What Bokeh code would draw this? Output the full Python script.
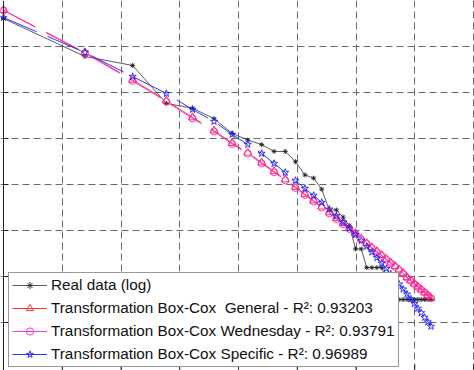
from bokeh.plotting import figure
from bokeh.models import ColumnDataSource, Range1d, FixedTicker, Span
from bokeh.embed import file_html
from bokeh.resources import INLINE

# x = log(rank), ranks 1..38
log_rank = [0.000, 0.693, 1.099, 1.386, 1.609, 1.792, 1.946, 2.079, 2.197, 2.303,
            2.398, 2.485, 2.565, 2.639, 2.708, 2.773, 2.833, 2.890, 2.944, 2.996,
            3.045, 3.091, 3.135, 3.178, 3.219, 3.258, 3.296, 3.332, 3.367, 3.401,
            3.434, 3.466, 3.497, 3.526, 3.555, 3.584, 3.611, 3.638]

real_log = [6.109, 5.283, 5.088, 4.263, 4.159, 3.932, 3.611, 3.466, 3.367, 3.219,
            3.219, 2.996, 2.708, 2.639, 2.398, 1.946, 1.946, 1.792, 1.609, 1.099,
            1.099, 0.693, 0.693, 0.693, 0.693, 0.450, 0.200, 0.000, 0.000, 0.000,
            0.000, 0.000, 0.000, 0.000, 0.000, 0.000, 0.000, 0.000]

boxcox_general = [6.290, 5.370, 4.774, 4.322, 3.957, 3.672, 3.400, 3.190, 2.977, 2.785,
                  2.609, 2.444, 2.292, 2.150, 2.018, 1.892, 1.770, 1.657, 1.553, 1.441,
                  1.319, 1.226, 1.132, 1.045, 0.963, 0.880, 0.800, 0.726, 0.650, 0.575,
                  0.482, 0.412, 0.344, 0.280, 0.216, 0.152, 0.092, 0.030]

boxcox_wednesday = [6.283, 5.354, 4.754, 4.302, 3.937, 3.652, 3.380, 3.170, 2.957, 2.765,
                    2.589, 2.424, 2.272, 2.130, 1.998, 1.872, 1.750, 1.637, 1.533, 1.426,
                    1.304, 1.211, 1.117, 1.030, 0.948, 0.865, 0.785, 0.711, 0.637, 0.563,
                    0.472, 0.404, 0.337, 0.274, 0.211, 0.148, 0.089, 0.030]

boxcox_specific = [6.130, 5.370, 4.848, 4.478, 4.130, 3.870, 3.587, 3.370, 3.174, 2.957,
                   2.761, 2.587, 2.413, 2.261, 2.109, 1.963, 1.820, 1.680, 1.546, 1.411,
                   1.280, 1.154, 1.028, 0.907, 0.787, 0.670, 0.552, 0.441, 0.333, 0.224,
                   0.115, 0.011, -0.091, -0.193, -0.291, -0.391, -0.489, -0.583]

labels = ["Real data (log)",
          "Transformation Box-Cox  General - R\u00b2: 0.93203",
          "Transformation Box-Cox Wednesday - R\u00b2: 0.93791",
          "Transformation Box-Cox Specific - R\u00b2: 0.96989"]

x_grid = [0.5, 1.0, 1.5, 2.0, 2.5, 3.0, 3.5, 4.0]
y_grid = [-0.5, 0.5, 1.5, 2.5, 3.5, 4.5, 5.5]

W, H = 474, 370
PX_X = 117.5   # pixels per x unit
PX_Y = 46.0    # pixels per y unit
x0 = -3 / PX_X
y_top = 6.5

src = ColumnDataSource(dict(x=log_rank, real=real_log, gen=boxcox_general,
                            wed=boxcox_wednesday, spec=boxcox_specific))

p = figure(width=W, height=H, output_backend="svg", toolbar_location=None,
           x_range=Range1d(x0, x0 + W / PX_X), y_range=Range1d(y_top - H / PX_Y, y_top),
           min_border=0, x_axis_location=None, y_axis_location=None)
p.outline_line_color = None
p.background_fill_color = "white"
p.border_fill_color = "white"

for g, t in ((p.xgrid[0], x_grid), (p.ygrid[0], y_grid)):
    g.ticker = FixedTicker(ticks=t)
    g.grid_line_color = "#6a6a6a"
    g.grid_line_dash = "7 4"
    g.grid_line_width = 1

# left axis line and inward ticks
p.add_layout(Span(location=0, dimension="height", line_color="#222222", line_width=1))
tick_x = 5 / PX_X
p.segment(x0=[0] * len(y_grid), y0=y_grid, x1=[tick_x] * len(y_grid), y1=y_grid,
          line_color="#222222", line_width=1)
y_bot = y_top - 369 / PX_Y
tick_y = 5 / PX_Y
p.segment(x0=x_grid, y0=[y_bot] * len(x_grid), x1=x_grid, y1=[y_bot + tick_y] * len(x_grid),
          line_color="#222222", line_width=1)

dash = "36 12"
p.line("x", "real", source=src, color="#333333", line_width=0.8, legend_label=labels[0])
p.scatter("x", "real", source=src, marker="asterisk", size=5, line_color="#222222",
          line_width=0.9, legend_label=labels[0])

p.line("x", "gen", source=src, color="#ff1a1a", line_width=0.9, line_dash=dash,
       legend_label=labels[1])
p.scatter("x", "gen", source=src, marker="triangle", size=8, line_color="#ff2020",
          line_width=0.9, fill_color=None, legend_label=labels[1])

p.line("x", "wed", source=src, color="#ff22dd", line_width=0.9, line_dash=dash,
       legend_label=labels[2])
p.scatter("x", "wed", source=src, marker="circle", size=7, line_color="#ff22cc",
          line_width=0.9, fill_color=None, legend_label=labels[2])

p.line("x", "spec", source=src, color="#1a1aff", line_width=0.9, line_dash=dash,
       legend_label=labels[3])
p.scatter("x", "spec", source=src, marker="star", size=7.5, line_color="#2020ff",
          line_width=0.9, fill_color=None, legend_label=labels[3])

lg = p.legend[0]
lg.location = (8, 3)
lg.label_text_font = "Liberation Sans"
lg.label_text_font_size = "15.3px"
lg.label_text_color = "#111111"
lg.glyph_width = 35
lg.glyph_height = 18
lg.label_height = 18
lg.label_standoff = 4
lg.spacing = 5
lg.padding = 3
lg.margin = 0
lg.border_line_color = "#333333"
lg.border_line_width = 1
lg.background_fill_color = "white"
lg.background_fill_alpha = 1.0

open("out.html", "w").write(file_html(p, INLINE))
